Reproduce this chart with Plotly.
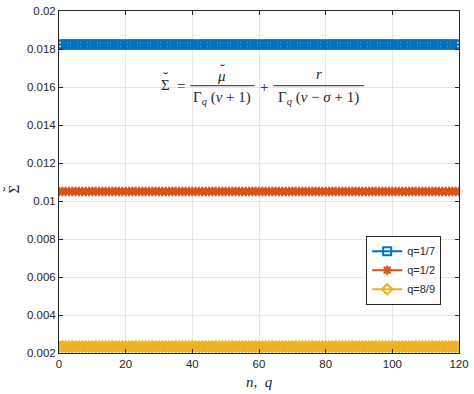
import plotly.graph_objects as go

n_vals = list(range(0, 121))
q_labels = ["q=1/7", "q=1/2", "q=8/9"]
sigma_q17 = [0.01824] * len(n_vals)
sigma_q12 = [0.01050] * len(n_vals)
sigma_q89 = [0.00233] * len(n_vals)
x_ticks = [0, 20, 40, 60, 80, 100, 120]
y_ticks = [0.002, 0.004, 0.006, 0.008, 0.01, 0.012, 0.014, 0.016, 0.018, 0.02]
y_tick_text = ["0.002", "0.004", "0.006", "0.008", "0.01", "0.012",
               "0.014", "0.016", "0.018", "0.02"]

colors = ["#0072BD", "#D95319", "#EDB120"]
symbols = ["square-open", "asterisk-open", "diamond-open"]
series = [sigma_q17, sigma_q12, sigma_q89]

fig = go.Figure()
for lab, ys, c, s in zip(q_labels, series, colors, symbols):
    fig.add_trace(go.Scatter(
        x=n_vals, y=ys, mode="lines+markers", name=lab,
        line=dict(color=c, width=2),
        marker=dict(symbol=s, size=8, color=c, line=dict(color=c, width=2)),
    ))

axis_common = dict(
    showline=True, linecolor="#262626", linewidth=1, mirror="ticks",
    ticks="inside", ticklen=4, tickcolor="#262626",
    showgrid=True, gridcolor="#E6E6E6", gridwidth=1, zeroline=False,
    tickfont=dict(family="Liberation Sans", size=11.5, color="#262626"),
    ticklabeloverflow="allow",
)

fig.update_layout(
    width=474, height=394,
    margin=dict(l=59, r=10, t=5, b=41),
    paper_bgcolor="white", plot_bgcolor="white",
    showlegend=True,
    legend=dict(x=0.768, y=0.343, xanchor="left", yanchor="top",
                bgcolor="white", bordercolor="#262626", borderwidth=1,
                font=dict(family="Liberation Sans", size=11, color="#262626"),
                tracegroupgap=0, itemwidth=30),
    xaxis=dict(range=[0, 120], tickvals=x_ticks,
               ticktext=[str(v) for v in x_ticks], **axis_common),
    yaxis=dict(range=[0.002, 0.02], tickvals=y_ticks,
               ticktext=y_tick_text, **axis_common),
)

serif = dict(family="Liberation Serif", size=15, color="#262626")

PL, PT, PW, PH = 59, 5, 405, 348

def px_ann(x, y, text, font, xanchor="center", angle=0):
    fig.add_annotation(xref="paper", yref="paper",
                       x=(x - PL) / PW, y=(PT + PH - y) / PH,
                       text=text, showarrow=False, font=font,
                       xanchor=xanchor, yanchor="middle", textangle=angle)

def px_line(x0, x1, y):
    fig.add_shape(type="line", xref="paper", yref="paper",
                  x0=(x0 - PL) / PW, x1=(x1 - PL) / PW,
                  y0=(PT + PH - y) / PH, y1=(PT + PH - y) / PH,
                  line=dict(color="#262626", width=1))

# equation
px_ann(167, 80, "Σ", serif)
px_ann(167, 72, "˘", serif)
px_ann(183, 81, "=", serif)
px_line(192, 257, 81)
px_ann(224, 71, "<i>μ</i>", serif)
px_ann(225, 64, "˘", serif)
px_ann(224, 94, "Γ<sub><i>q</i></sub> (<i>ν</i> + 1)", serif)
px_ann(267, 82, "+", serif)
px_line(276, 368, 81)
px_ann(322, 69, "<i>r</i>", serif)
px_ann(322, 94, "Γ<sub><i>q</i></sub> (<i>ν</i> − <i>σ</i> + 1)", serif)

# axis titles
px_ann(262, 383, "<i>n</i>,  <i>q</i>", serif)
px_ann(13, 186, "Σ", serif, angle=-90)
px_ann(7, 186, "˘", serif, angle=-90)

fig.write_html("out.html")
